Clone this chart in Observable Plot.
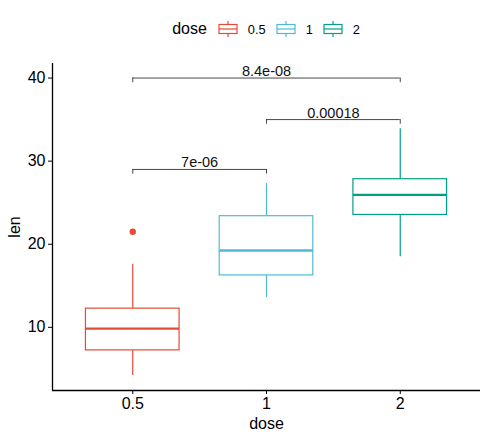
<!DOCTYPE html>
<html>
<head>
<meta charset="utf-8">
<script src="https://cdn.jsdelivr.net/npm/d3@7"></script>
<script src="https://cdn.jsdelivr.net/npm/@observablehq/plot@0.6"></script>
<style>
  body { margin: 0; background: #fff; font-family: "Liberation Sans", Arial, sans-serif; }
  #legend { height: 56px; box-sizing: border-box; padding: 2px 9px 0 52px;
            display: flex; justify-content: center; align-items: center; color: #000; }
  #legend .title { font-size: 16px; margin-right: 11px; }
  #legend .item { display: flex; align-items: center; margin-right: 10px; }
  #legend .item:last-child { margin-right: 0; }
  #legend .item span { font-size: 12.8px; margin-left: 10px; }
  #legend svg { display: block; }
  #chart g[aria-label^="x-axis"] text, #chart g[aria-label^="y-axis"] text { font-size: 16px; }
</style>
</head>
<body>
<div id="legend"></div>
<div id="chart"></div>
<script>
// ToothGrowth : longueur des dents par dose
const doses = ["0.5", "1", "2"];
const colors = ["#E64B35", "#4DBBD5", "#00A087"];
const len05 = [4.2, 11.5, 7.3, 5.8, 6.4, 10, 11.2, 11.2, 5.2, 7, 15.2, 21.5, 17.6, 9.7, 14.5, 10, 8.2, 9.4, 16.5, 9.7];
const len1 = [16.5, 16.5, 15.2, 17.3, 22.5, 17.3, 13.6, 14.5, 18.8, 15.5, 19.7, 23.3, 23.6, 26.4, 20, 25.2, 25.8, 21.2, 14.5, 27.3];
const len2 = [23.6, 18.5, 33.9, 25.5, 26.4, 32.5, 26.7, 21.5, 23.3, 29.5, 25.5, 26.4, 22.4, 24.5, 24.8, 30.9, 26.4, 27.3, 29.4, 23];

// comparaisons (t-test) affichées en crochets
const pairs = [["0.5", "1"], ["1", "2"], ["0.5", "2"]];
const pLabels = ["7e-06", "0.00018", "8.4e-08"];
const bracketY = [29, 35, 40];

const groups = [len05, len1, len2];
const halfBox = 0.35;
const tip = 0.56;

// statistiques des boites (quantiles type 7 comme R)
const stats = doses.map((dose, i) => {
    const v = groups[i].slice().sort(d3.ascending);
    const q1 = d3.quantileSorted(v, 0.25);
    const med = d3.quantileSorted(v, 0.5);
    const q3 = d3.quantileSorted(v, 0.75);
    const iqr = q3 - q1;
    const inside = v.filter(x => x >= q1 - 1.5 * iqr && x <= q3 + 1.5 * iqr);
    return {dose, pos: i, q1, med, q3, lo: d3.min(inside), hi: d3.max(inside)};
});
const outliers = [];
stats.forEach((s, i) => {
    groups[i].forEach(v => {
        if (v < s.lo || v > s.hi) outliers.push({dose: s.dose, pos: s.pos, len: v});
    });
});

const brackets = pairs.map((p, i) => ({
    x1: doses.indexOf(p[0]), x2: doses.indexOf(p[1]), y: bracketY[i], label: pLabels[i]
}));
const tips = brackets.flatMap(b => [{x: b.x1, y: b.y}, {x: b.x2, y: b.y}]);

// legende
const legend = document.getElementById("legend");
legend.innerHTML = `<span class="title">dose</span>` + doses.map((d, i) => `
  <div class="item">
    <svg width="20" height="16" viewBox="0 0 20 16">
      <line x1="10" x2="10" y1="0" y2="16" stroke="${colors[i]}" stroke-width="1.2"/>
      <rect x="1" y="3.5" width="18" height="9" fill="#fff" stroke="${colors[i]}" stroke-width="1.2"/>
      <line x1="1" x2="19" y1="8" y2="8" stroke="${colors[i]}" stroke-width="1.2"/>
    </svg>
    <span>${d}</span>
  </div>`).join("");

const plot = Plot.plot({
    width: 489,
    height: 383,
    marginLeft: 52,
    marginRight: 9,
    marginTop: 7,
    marginBottom: 49,
    style: {fontFamily: "'Liberation Sans', Arial, sans-serif", fontSize: "16px", color: "#000", background: "#fff"},
    x: {type: "linear", domain: [-0.6, 2.6], ticks: [0, 1, 2], tickFormat: i => doses[i], tickSize: 4, tickPadding: 3, label: null},
    y: {domain: [2.4, 41.75], ticks: [10, 20, 30, 40], tickSize: 4, tickPadding: 3, label: null},
    color: {domain: doses, range: colors},
    marks: [
        Plot.ruleY([2.4], {stroke: "#000", strokeWidth: 1.3}),
        Plot.ruleX([-0.6], {stroke: "#000", strokeWidth: 1.3}),
        // moustaches
        Plot.ruleX(stats, {x: "pos", y1: "lo", y2: "q1", stroke: "dose", strokeWidth: 1.2}),
        Plot.ruleX(stats, {x: "pos", y1: "q3", y2: "hi", stroke: "dose", strokeWidth: 1.2}),
        // boites
        Plot.rect(stats, {x1: d => d.pos - halfBox, x2: d => d.pos + halfBox, y1: "q1", y2: "q3",
            fill: "#fff", stroke: "dose", strokeWidth: 1.2}),
        Plot.ruleY(stats, {x1: d => d.pos - halfBox, x2: d => d.pos + halfBox, y: "med", stroke: "dose", strokeWidth: 2.3}),
        Plot.dot(outliers, {x: "pos", y: "len", fill: "dose", r: 3.2}),
        // crochets des p-values
        Plot.ruleY(brackets, {x1: "x1", x2: "x2", y: "y", stroke: "#333", strokeWidth: 0.9}),
        Plot.ruleX(tips, {x: "x", y1: "y", y2: d => d.y - tip, stroke: "#333", strokeWidth: 0.9}),
        Plot.text(brackets, {x: d => (d.x1 + d.x2) / 2, y: "y", text: "label", lineAnchor: "bottom", dy: -2,
            fontSize: 14.5, fill: "#111"}),
        // titres des axes
        Plot.text(["dose"], {frameAnchor: "bottom", lineAnchor: "middle", dy: 33, text: d => d, fontSize: 16}),
        Plot.text(["len"], {frameAnchor: "left", textAnchor: "middle", dx: -38, rotate: -90, text: d => d, fontSize: 16})
    ]
});
document.getElementById("chart").appendChild(plot);
</script>
</body>
</html>
